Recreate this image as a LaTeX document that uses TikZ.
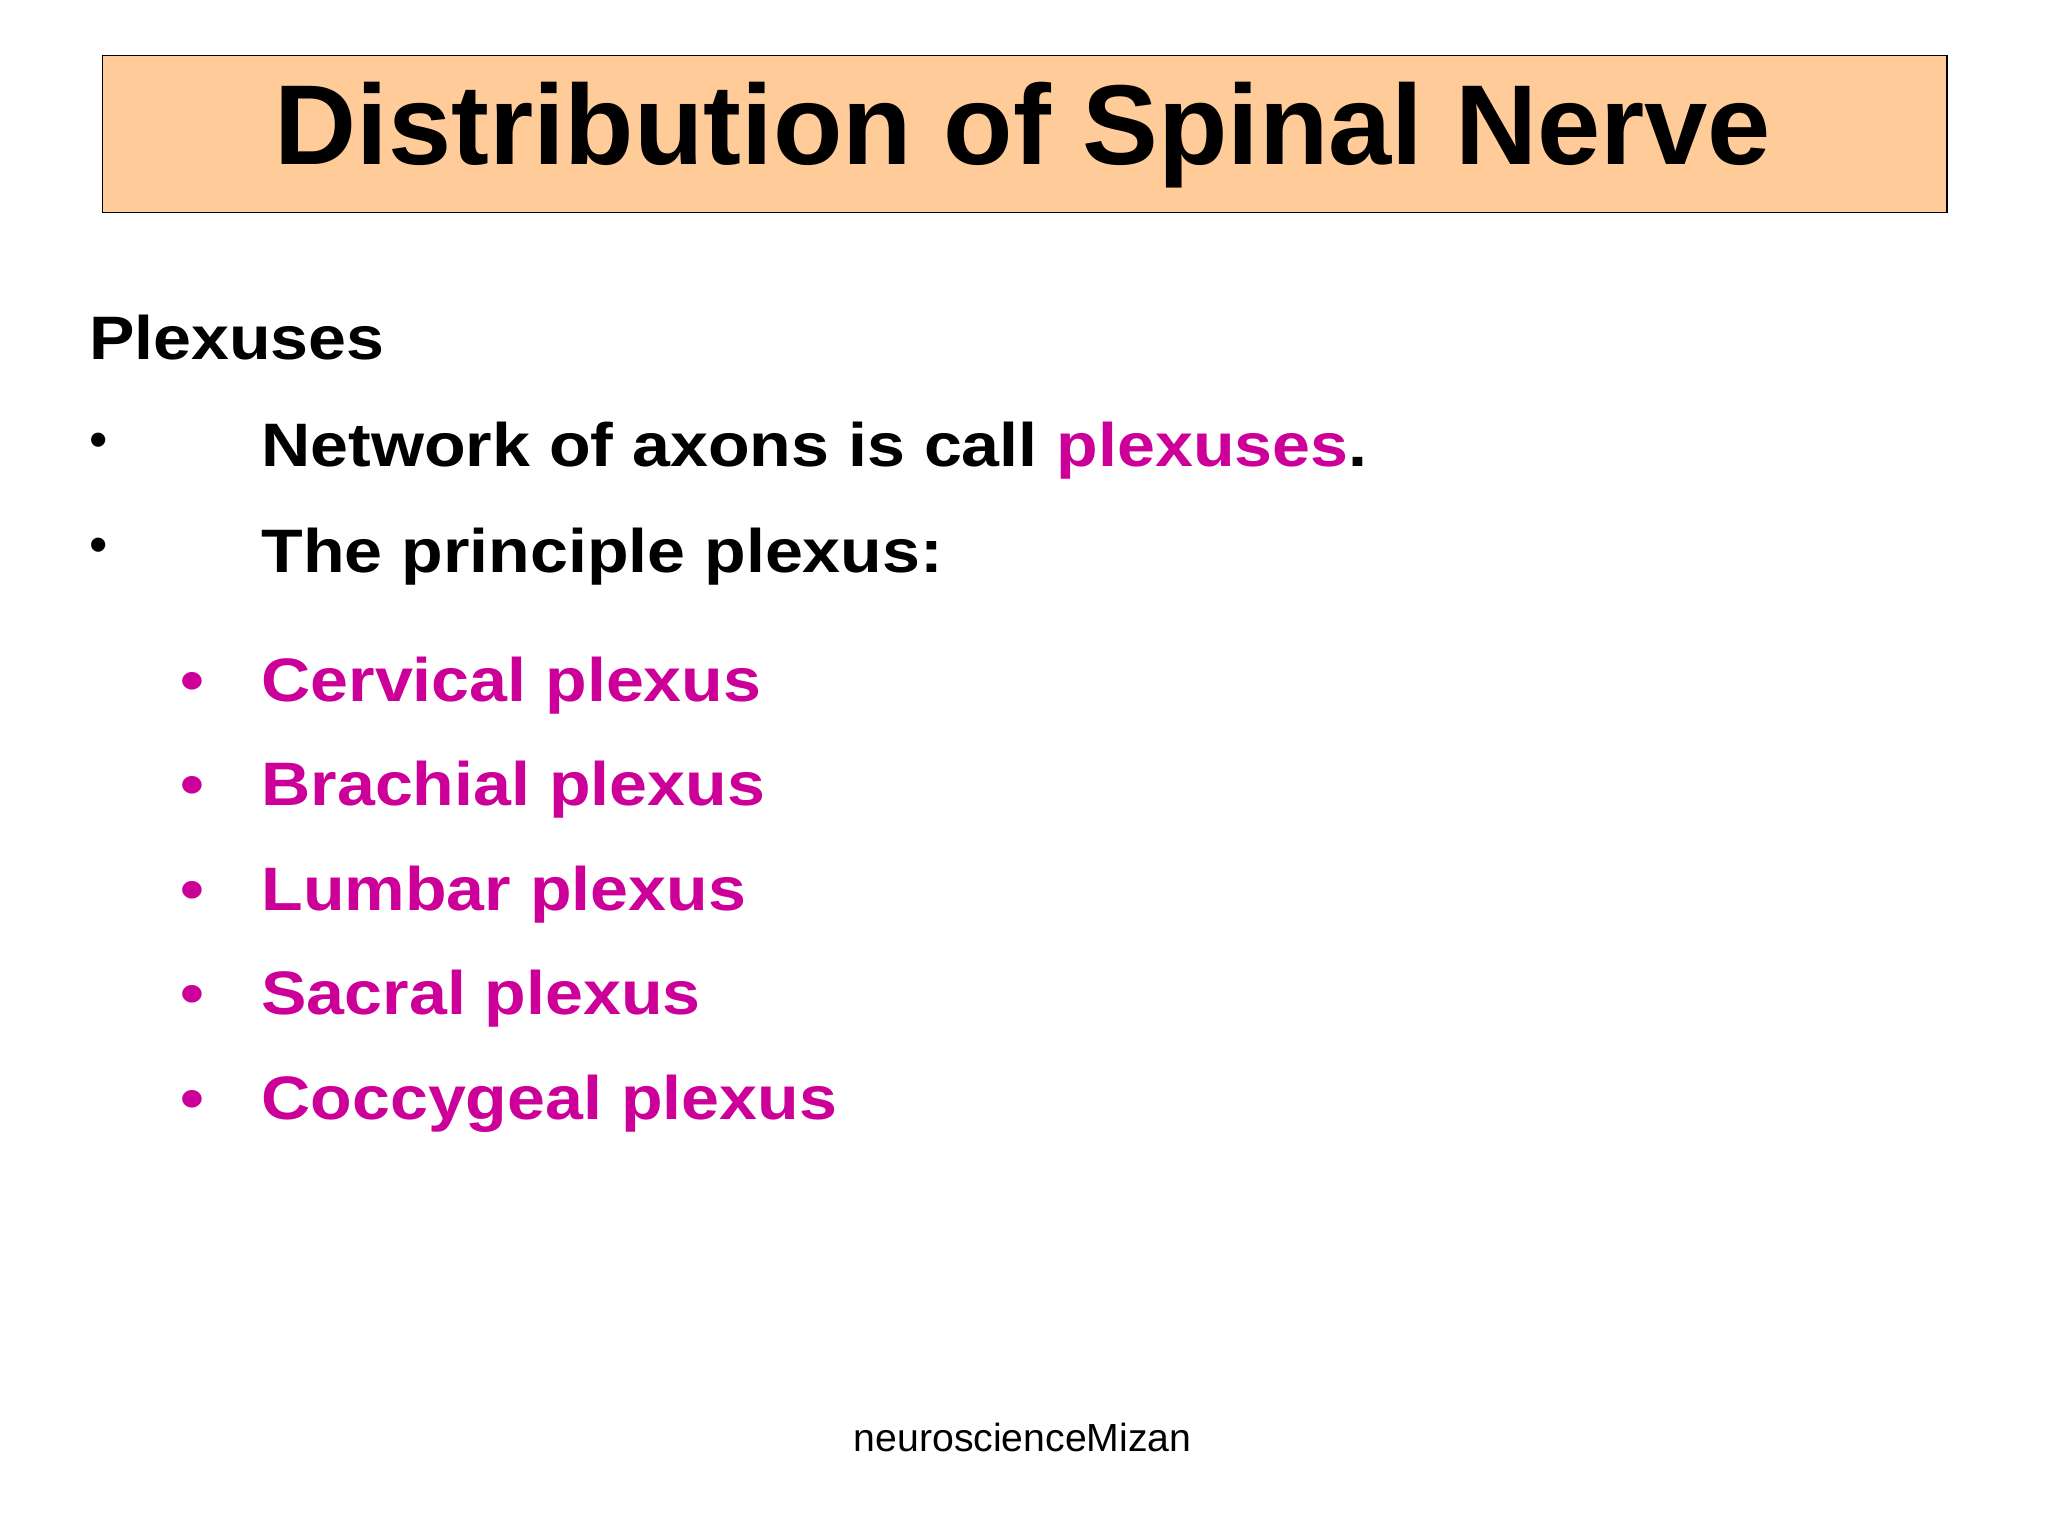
\documentclass[tikz,border=0pt]{standalone}
\usepackage{fontspec}
\setmainfont{Liberation Sans}
\newfontfamily\wide[FakeStretch=1.11]{Liberation Sans}
\definecolor{mag}{HTML}{CC0099}
\definecolor{titlebg}{HTML}{FFCC99}
\begin{document}
\begin{tikzpicture}[x=1pt,y=-1pt,
  txt/.style={anchor=base west,inner sep=0pt,font=\wide\fontsize{47}{50}\selectfont\bfseries},
  sub/.style={txt,text=mag}]
\useasboundingbox[fill=white] (0,0) rectangle (1568,1176);
\node[draw=black,line width=1.2pt,fill=titlebg,minimum width=1412pt,minimum height=120pt,anchor=north west,inner sep=0pt] (title) at (78,42) {};
\node[anchor=base,inner sep=0pt,font=\fontsize{87}{90}\selectfont\bfseries] (tt) at (783,126) {Distribution of Spinal Nerve};
\node[txt] (plex) at (68,275) {Plexuses};
\node[txt,font=\fontsize{40}{44}\selectfont] (b1) at (68,350) {•};
\node[txt] (l1) at (200,357) {Network of axons is call \textcolor{mag}{plexuses}.};
\node[txt,font=\fontsize{40}{44}\selectfont] (b2) at (68,431) {•};
\node[txt] (l2) at (200,438) {The principle plexus:};
\foreach \t [count=\i] in {Cervical plexus,Brachial plexus,Lumbar plexus,Sacral plexus,Coccygeal plexus}{
  \node[sub] (sb\i) at (138,457+80*\i) {•};
  \node[sub] (s\i) at (200,457+80*\i) {\t};
}
\node[anchor=base,inner sep=0pt,font=\fontsize{30}{32}\selectfont] (foot) at (783,1111) {neuroscienceMizan};
\end{tikzpicture}
\end{document}
